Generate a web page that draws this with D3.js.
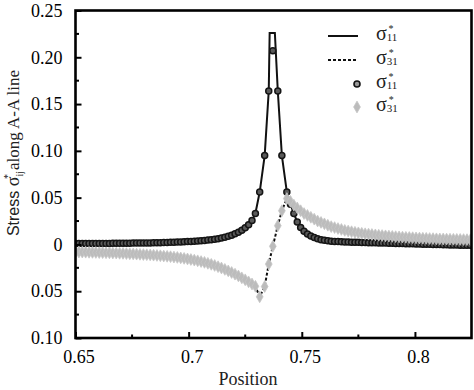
<!DOCTYPE html>
<html><head><meta charset="utf-8">
<script src="https://cdn.jsdelivr.net/npm/d3@7"></script>
<style>body{margin:0;background:#fff}svg{display:block}</style>
</head><body><svg id="c" width="474" height="390"></svg>
<script>
// ---- data ----
const positions = [
0.6500,0.6515,0.6530,0.6545,0.6560,0.6575,0.6590,0.6605,0.6620,0.6635,
0.6650,0.6665,0.6680,0.6695,0.6710,0.6725,0.6740,0.6755,0.6770,0.6785,
0.6800,0.6815,0.6830,0.6845,0.6860,0.6875,0.6890,0.6905,0.6920,0.6935,
0.6950,0.6965,0.6980,0.6995,0.7010,0.7025,0.7040,0.7055,0.7070,0.7085,
0.7100,0.7115,0.7130,0.7145,0.7160,0.7175,0.7190,0.7205,0.7220,0.7235,
0.7250,0.7265,0.7280,0.7295,
0.7314,0.7336,0.7354,0.7372,0.7394,0.7412,0.7434,
0.7450,0.7465,0.7480,0.7495,0.7510,0.7525,0.7540,0.7555,0.7570,0.7585,
0.7600,0.7615,0.7630,0.7645,0.7660,0.7675,0.7690,0.7705,0.7720,0.7735,
0.7750,0.7765,0.7780,0.7795,0.7810,0.7825,0.7840,0.7855,0.7870,0.7885,
0.7900,0.7915,0.7930,0.7945,0.7960,0.7975,0.7990,0.8005,0.8020,0.8035,
0.8050,0.8065,0.8080,0.8095,0.8110,0.8125,0.8140,0.8155,0.8170,0.8185,
0.8200,0.8215,0.8230,0.8245];

const sigma11 = [
0.0010,0.0010,0.0010,0.0010,0.0010,0.0010,0.0011,0.0011,0.0011,0.0011,
0.0011,0.0012,0.0012,0.0012,0.0013,0.0013,0.0013,0.0014,0.0014,0.0015,
0.0015,0.0016,0.0016,0.0017,0.0018,0.0019,0.0020,0.0021,0.0022,0.0023,
0.0025,0.0026,0.0028,0.0030,0.0032,0.0034,0.0037,0.0040,0.0043,0.0047,
0.0051,0.0056,0.0062,0.0069,0.0077,0.0087,0.0099,0.0113,0.0130,0.0151,
0.0177,0.0210,0.0255,0.0330,
0.0560,0.0950,0.1640,0.2070,0.1640,0.0950,0.0560,
0.0430,0.0330,0.0240,0.0180,0.0140,0.0112,0.0090,0.0074,0.0061,0.0051,
0.0044,0.0039,0.0035,0.0032,0.0030,0.0028,0.0026,0.0025,0.0024,0.0023,
0.0022,0.0021,0.0020,0.0019,0.0018,0.0017,0.0016,0.0015,0.0014,0.0013,
0.0012,0.0011,0.0010,0.0009,0.0008,0.0007,0.0006,0.0005,0.0004,0.0003,
0.0002,0.0001,0.0000,-0.0001,-0.0002,-0.0003,-0.0004,-0.0005,-0.0006,-0.0007,
-0.0008,-0.0009,-0.0010,-0.0010];

const sigma31 = [
-0.0080,-0.0081,-0.0082,-0.0083,-0.0084,-0.0085,-0.0086,-0.0087,-0.0088,-0.0089,
-0.0090,-0.0092,-0.0093,-0.0095,-0.0096,-0.0098,-0.0100,-0.0102,-0.0104,-0.0106,
-0.0108,-0.0110,-0.0112,-0.0115,-0.0118,-0.0121,-0.0124,-0.0127,-0.0131,-0.0135,
-0.0139,-0.0144,-0.0149,-0.0155,-0.0161,-0.0168,-0.0175,-0.0183,-0.0192,-0.0202,
-0.0213,-0.0225,-0.0238,-0.0252,-0.0267,-0.0283,-0.0300,-0.0318,-0.0337,-0.0357,
-0.0378,-0.0400,-0.0423,-0.0447,
-0.0560,-0.0450,-0.0210,-0.0020,0.0200,0.0360,0.0490,
0.0460,0.0420,0.0390,0.0360,0.0330,0.0310,0.0290,0.0270,0.0250,0.0235,
0.0220,0.0205,0.0190,0.0180,0.0170,0.0160,0.0150,0.0143,0.0136,0.0130,
0.0124,0.0119,0.0114,0.0110,0.0106,0.0102,0.0098,0.0095,0.0092,0.0089,
0.0086,0.0083,0.0081,0.0078,0.0076,0.0074,0.0072,0.0070,0.0068,0.0066,
0.0065,0.0063,0.0062,0.0060,0.0059,0.0058,0.0057,0.0056,0.0055,0.0054,
0.0053,0.0052,0.0051,0.0050];

// solid-line peak (line overshoots the marker at the crest)
const sigma11LinePeakX = [0.7358, 0.7381];
const sigma11LinePeakY = [0.2260, 0.2260];

const xTicks = [0.65, 0.7, 0.75, 0.8];
const xTickLabels = ["0.65", "0.7", "0.75", "0.8"];
const xMinorTicks = [0.675, 0.725, 0.775];
const yTicks = [-0.10, -0.05, 0, 0.05, 0.10, 0.15, 0.20, 0.25];
const yTickLabels = ["0.10", "0.05", "0", "0.05", "0.10", "0.15", "0.20", "0.25"];
const yMinorTicks = [-0.075, -0.025, 0.025, 0.075, 0.125, 0.175, 0.225];
const legendSubs = ["11", "31", "11", "31"];

// ---- chart ----
const svg = d3.select("#c");
const L = 75.5, R = 471.5, T = 10.5, B = 338;
const x = d3.scaleLinear().domain([0.65, 0.825]).range([L, R]);
const y = d3.scaleLinear().domain([-0.10, 0.25]).range([B, T]);
const serif = "'Liberation Serif','Times New Roman',serif";

const pts11 = positions.map((p, i) => [p, sigma11[i]]);
const pts31 = positions.map((p, i) => [p, sigma31[i]]);
const line11 = pts11.filter(d => d[0] < sigma11LinePeakX[0])
  .concat(sigma11LinePeakX.map((p, i) => [p, sigma11LinePeakY[i]]))
  .concat(pts11.filter(d => d[0] > sigma11LinePeakX[1]));

const lineGen = d3.line().x(d => x(d[0])).y(d => y(d[1]));
svg.append("clipPath").attr("id", "pc").append("rect")
  .attr("x", L).attr("y", T).attr("width", R - L).attr("height", B - T);
const plot = svg.append("g").attr("clip-path", "url(#pc)");

plot.append("path").datum(line11).attr("d", lineGen)
  .attr("fill", "none").attr("stroke", "#111").attr("stroke-width", 2);
plot.append("path").datum(pts31).attr("d", lineGen)
  .attr("fill", "none").attr("stroke", "#111").attr("stroke-width", 2)
  .attr("stroke-dasharray", "3,2");

const circFill = "#5a5a5a", circStroke = "#151515";
plot.selectAll("circle.m11").data(pts11).join("circle").attr("class", "m11")
  .attr("cx", d => x(d[0])).attr("cy", d => y(d[1])).attr("r", 3)
  .attr("fill", circFill).attr("stroke", circStroke).attr("stroke-width", 1.5);

const diamond = d3.symbol().type(d3.symbolDiamond).size(40);
plot.selectAll("path.m31").data(pts31).join("path").attr("class", "m31")
  .attr("d", diamond)
  .attr("transform", d => `translate(${x(d[0])},${y(d[1])})`)
  .attr("fill", "#bcbcbc").attr("stroke", "#c6c6c6").attr("stroke-width", 0.8);

// axes (ticks inward, left/bottom only)
const xAxis = d3.axisBottom(x).tickValues(xTicks).tickSizeInner(-6).tickSizeOuter(0)
  .tickFormat((d, i) => xTickLabels[i]).tickPadding(12);
const gx = svg.append("g").attr("transform", `translate(0,${B})`).call(xAxis);
gx.select(".domain").remove();
gx.selectAll("line").attr("stroke", "#000").attr("stroke-width", 2);
gx.selectAll("text").attr("font-family", serif).attr("font-size", 18).attr("fill", "#000").attr("dx", 3);
svg.append("g").selectAll("line").data(xMinorTicks).join("line")
  .attr("x1", d => x(d)).attr("x2", d => x(d)).attr("y1", B).attr("y2", B - 3.5)
  .attr("stroke", "#000").attr("stroke-width", 2);

const yAxis = d3.axisLeft(y).tickValues(yTicks).tickSizeInner(-6).tickSizeOuter(0)
  .tickFormat((d, i) => yTickLabels[i]).tickPadding(13);
const gy = svg.append("g").attr("transform", `translate(${L},0)`).call(yAxis);
gy.select(".domain").remove();
gy.selectAll("line").attr("stroke", "#000").attr("stroke-width", 2);
gy.selectAll("text").attr("font-family", serif).attr("font-size", 18).attr("fill", "#000");
svg.append("g").selectAll("line").data(yMinorTicks).join("line")
  .attr("x1", L).attr("x2", L + 3.5).attr("y1", d => y(d)).attr("y2", d => y(d))
  .attr("stroke", "#000").attr("stroke-width", 2);

// frame
svg.append("rect").attr("x", L).attr("y", T).attr("width", R - L).attr("height", B - T)
  .attr("fill", "none").attr("stroke", "#000").attr("stroke-width", 2.6);

// axis titles
svg.append("text").attr("x", 248).attr("y", 385).attr("text-anchor", "middle")
  .attr("font-family", serif).attr("font-size", 18).attr("fill", "#222").text("Position");

const yl = svg.append("text").attr("transform", "translate(19,153) rotate(-90)")
  .attr("text-anchor", "middle").attr("fill", "#222").attr("font-family", serif).attr("font-size", 17);
yl.append("tspan").attr("font-family", "'Liberation Sans',Arial,sans-serif").attr("font-size", 16).text("Stress ");
yl.append("tspan").attr("font-size", 18).text("σ");
yl.append("tspan").attr("font-size", 10).attr("dy", 4).text("ij");
yl.append("tspan").attr("font-size", 10).attr("dx", -8).attr("dy", -12).text("*");
yl.append("tspan").attr("font-size", 17).attr("dx", 4).attr("dy", 8).text("along A-A line");

// legend
const legendRows = [36, 60, 84, 107];
const lg = svg.append("g");
lg.append("line").attr("x1", 328).attr("x2", 358).attr("y1", legendRows[0]).attr("y2", legendRows[0])
  .attr("stroke", "#111").attr("stroke-width", 2);
lg.append("line").attr("x1", 328).attr("x2", 358).attr("y1", legendRows[1]).attr("y2", legendRows[1])
  .attr("stroke", "#111").attr("stroke-width", 2).attr("stroke-dasharray", "3,2");
lg.append("circle").attr("cx", 357).attr("cy", legendRows[2]).attr("r", 3)
  .attr("fill", "#999").attr("stroke", circStroke).attr("stroke-width", 1.6);
lg.append("path").attr("d", diamond).attr("transform", `translate(357,${legendRows[3]})`)
  .attr("fill", "#bcbcbc").attr("stroke", "#c6c6c6").attr("stroke-width", 0.8);
legendRows.forEach((ry, i) => {
  const t = lg.append("text").attr("x", 376).attr("y", ry + 4).attr("font-family", serif)
    .attr("fill", "#222").attr("font-size", 20);
  t.append("tspan").text("σ");
  t.append("tspan").attr("font-size", 11).attr("dy", 1).text(legendSubs[i]);
  t.append("tspan").attr("font-size", 10).attr("dx", -9).attr("dy", -9).text("*");
});
</script></body></html>
